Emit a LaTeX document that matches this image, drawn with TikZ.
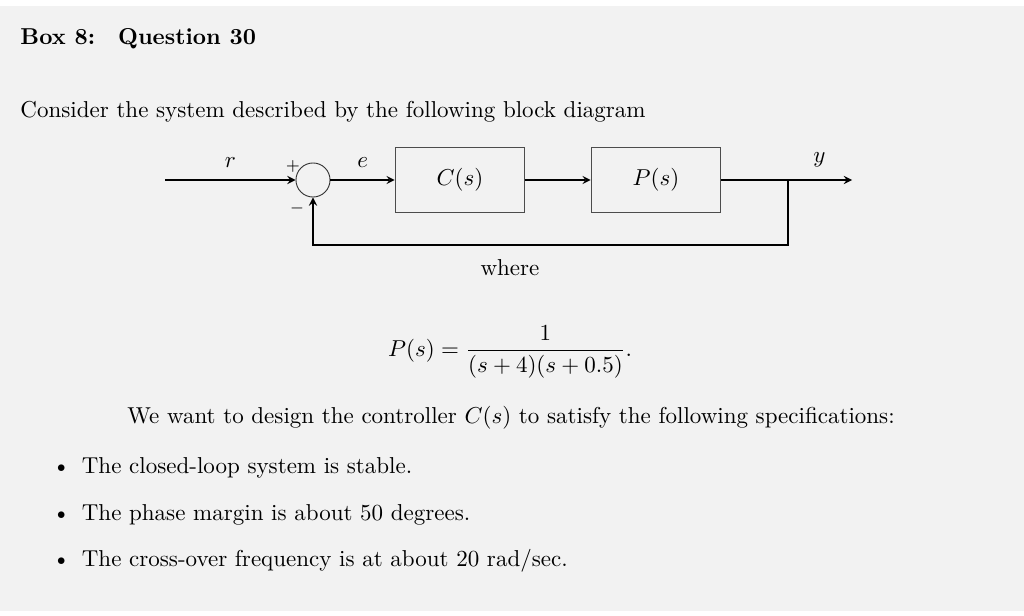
\documentclass[tikz,border=0pt]{standalone}
\usepackage{amsmath}
\usetikzlibrary{arrows,positioning}
\definecolor{boxgray}{HTML}{F2F2F2}
\tikzstyle{block} = [rectangle, draw=black!70, minimum width=1.98cm, minimum height=0.98cm, text centered]
\tikzstyle{sumnode} = [circle, draw=black!80, minimum size=0.52cm, inner sep=0pt]
\tikzstyle{arrow} = [semithick,->,>=stealth]
\tikzstyle{txt} = [anchor=base west, inner sep=0pt]

\begin{document}
\begin{tikzpicture}[x=0.01527cm, y=-0.01527cm]
        \useasboundingbox (0,0) rectangle (1024,615);
        % Background
        \fill[boxgray] (0,6) rectangle (1024,611);

        % Heading and intro
        \node (title) [txt] at (20,45) {\textbf{Box 8:\quad Question 30}};
        \node (intro) [txt] at (20,118) {Consider the system described by the following block diagram};

        % Block diagram
        \coordinate (in) at (165,180);
        \node (sum) [sumnode] at (313,180) {};
        \node (ctrl) [block] at (460,180) {$C(s)$};
        \node (plant) [block] at (656,180) {$P(s)$};
        \coordinate (out) at (852,180);
        \coordinate (branch) at (788,180);
        \coordinate (fb) at (788,245);

        \draw [arrow] (in) -- node[above=2pt] {$r$} (sum);
        \draw [arrow] (sum) -- node[above=2pt] {$e$} (ctrl);
        \draw [arrow] (ctrl) -- (plant);
        \draw [arrow] (plant) -- (out) node[pos=0.75, above=2pt] {$y$};
        \draw [arrow] (branch) -- (fb) -| (sum.south);
        \node at (293,166) {\scriptsize $+$};
        \node at (297,208) {\scriptsize $-$};

        % Text below
        \node (where) at (510,268) {where};
        \node (eq) at (510,352) {$\displaystyle P(s)=\frac{1}{(s+4)(s+0.5)}.$};
        \node (want) [txt] at (127,423) {We want to design the controller $C(s)$ to satisfy the following specifications:};
        \node [txt] at (52,473) {\textbullet\enspace The closed-loop system is stable.};
        \node [txt] at (52,520) {\textbullet\enspace The phase margin is about 50 degrees.};
        \node [txt] at (52,566) {\textbullet\enspace The cross-over frequency is at about 20 rad/sec.};
\end{tikzpicture}
\end{document}
